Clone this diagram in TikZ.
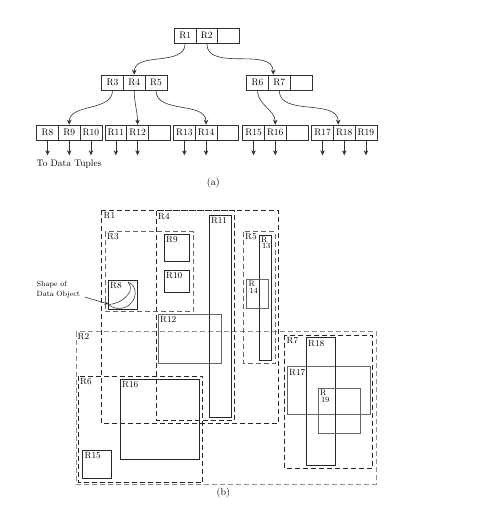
\documentclass[tikz,border=0pt]{standalone}
\usetikzlibrary{arrows.meta}
\begin{document}
\begin{tikzpicture}[x=1pt,y=-1pt,
  cell/.style={draw=black!80, line width=0.6pt, minimum width=21.7pt, minimum height=15pt, inner sep=0pt, font=\fontsize{9.5}{10}\selectfont},
  tedge/.style={draw=black!80, line width=0.6pt, -{Stealth[length=5pt,width=4.5pt]}},
  dbox/.style={draw=black!85, line width=0.65pt, dash pattern=on 5pt off 3pt},
  lbox/.style={draw=black!45, line width=0.65pt, dash pattern=on 5pt off 3pt},
  sbox/.style={draw=black!85, line width=0.6pt},
  gbox/.style={draw=black!60, line width=0.6pt},
  lab/.style={anchor=north west, inner sep=1pt, font=\fontsize{9}{9}\selectfont},
  lab2/.style={anchor=north west, inner sep=0.8pt, align=left, font=\fontsize{8}{6.5}\selectfont}
]
\useasboundingbox (0,0) rectangle (500,515);

% ---------- (a) tree ----------
% level 1
\node[cell] (r1) at (185.15,35.8) {R1};
\node[cell] (r2) at (206.85,35.8) {R2};
\node[cell] (e1) at (228.55,35.8) {};
% level 2
\node[cell] (r3) at (112.55,82.5) {R3};
\node[cell] (r4) at (134.25,82.5) {R4};
\node[cell] (r5) at (155.95,82.5) {R5};
\node[cell] (r6) at (257.55,82.5) {R6};
\node[cell] (r7) at (279.25,82.5) {R7};
\node[cell] (e2) at (300.95,82.5) {};
% level 3
\node[cell] (r8)  at (47.55,132.5) {R8};
\node[cell] (r9)  at (69.25,132.5) {R9};
\node[cell] (r10) at (90.95,132.5) {R10};
\node[cell] (r11) at (115.85,132.5) {R11};
\node[cell] (r12) at (137.55,132.5) {R12};
\node[cell] (e3)  at (159.25,132.5) {};
\node[cell] (r13) at (184.35,132.5) {R13};
\node[cell] (r14) at (206.05,132.5) {R14};
\node[cell] (e4)  at (227.75,132.5) {};
\node[cell] (r15) at (253.55,132.5) {R15};
\node[cell] (r16) at (275.25,132.5) {R16};
\node[cell] (e5)  at (296.95,132.5) {};
\node[cell] (r17) at (322.55,132.5) {R17};
\node[cell] (r18) at (344.25,132.5) {R18};
\node[cell] (r19) at (365.95,132.5) {R19};

% tree edges
\draw[tedge] (r1.south) to[out=-90,in=90] (r4.north);
\draw[tedge] (r2.south) to[out=-90,in=90] ([xshift=-6pt]r7.north);
\draw[tedge] (r3.south) to[out=-90,in=90] (r9.north);
\draw[tedge] (r4.south) to[out=-90,in=90] (r12.north);
\draw[tedge] (r5.south) to[out=-90,in=90] (r14.north);
\draw[tedge] (r6.south) to[out=-90,in=90] (r16.north);
\draw[tedge] (r7.south) to[out=-90,in=90] ([xshift=-6pt]r18.north);

% leaf arrows to data tuples
\foreach \n in {r8,r9,r10,r11,r12,r13,r14,r15,r16,r17,r18,r19}{
  \coordinate (\n d) at ([yshift=-15pt]\n.south);
  \draw[tedge] (\n.south) -- (\n d);
}
\node[font=\fontsize{9.5}{10}\selectfont, anchor=west, inner sep=0pt] (tdt) at (36.5,164) {To Data Tuples};
\node[font=\fontsize{10}{10}\selectfont] (capa) at (213.3,183.3) {(a)};

% ---------- (b) rectangles ----------
% R2 (light dashed)
\draw[lbox] (76,331.7) rectangle (376,484);
\node[lab] (lR2) at (76.5,332.5) {R2};
% R1
\draw[dbox] (101.7,210) rectangle (278.3,423.5);
\node[lab] (lR1) at (102.5,211) {R1};
% R4
\draw[dbox] (156.3,210.5) rectangle (234.5,420);
\node[lab] (lR4) at (157,212) {R4};
% R3
\draw[lbox, draw=black!60] (105,231.7) rectangle (193.3,311.7);
\node[lab] (lR3) at (106,232.5) {R3};
% R5
\draw[lbox, draw=black!60] (243.3,231.7) rectangle (275,363.3);
\node[lab] (lR5) at (244,232.5) {R5};
% R6
\draw[dbox] (78.3,376) rectangle (202.7,482.7);
\node[lab] (lR6) at (79,377) {R6};
% R7
\draw[dbox] (284.5,335) rectangle (372.5,468.3);
\node[lab] (lR7) at (285.5,336) {R7};

% solid leaves
\draw[sbox] (108,280) rectangle (137,309.3);
\node[lab] (lR8) at (109,281) {R8};
\draw[sbox] (164.3,234) rectangle (189.3,261);
\node[lab] (lR9) at (165,235) {R9};
\draw[sbox] (164.3,270) rectangle (189.3,292.7);
\node[lab] (lR10) at (165,271) {R10};
\draw[sbox] (209,215) rectangle (231,417.3);
\node[lab] (lR11) at (209.8,216) {R11};
\draw[gbox] (158.3,314.3) rectangle (221.7,363.3);
\node[lab] (lR12) at (159,315.3) {R12};
\draw[sbox] (259.3,235) rectangle (271.7,360.7);
\node[lab2] (lR13) at (260,236) {R\\\hspace*{1pt}13};
\draw[gbox] (246.7,279.3) rectangle (268.3,308.7);
\node[lab2] (lR14) at (247.5,280.3) {R\\\hspace*{1pt}14};
\draw[sbox] (82.7,450) rectangle (111.7,478.3);
\node[lab] (lR15) at (83.5,451) {R15};
\draw[sbox] (120,379.3) rectangle (199.3,459.3);
\node[lab] (lR16) at (121,380.3) {R16};
\draw[gbox] (287.3,366.7) rectangle (370,414);
\node[lab] (lR17) at (288,367.7) {R17};
\draw[sbox] (306,337.7) rectangle (335,465.7);
\node[lab] (lR18) at (307,338.7) {R18};
\draw[gbox] (318.3,388.3) rectangle (360,433.3);
\node[lab2] (lR19) at (319,389.3) {R\\\hspace*{1pt}19};

% data object crescent
\draw[black!75, line width=0.6pt] (128,282) .. controls (137,285) and (139,300) .. (126,307)
  .. controls (119,310) and (112,308) .. (108.5,304.5)
  .. controls (118,304) and (127,298) .. (130,291)
  .. controls (131,287) and (130,284) .. (128,282);
\coordinate (tip) at (108.5,304);
\node[anchor=north west, align=left, inner sep=1pt, font=\fontsize{7.5}{10}\selectfont] (shapetxt) at (35.5,280) {Shape of\\Data Object};
\draw[tedge, -{Stealth[length=4pt,width=3.5pt]}] ([xshift=4pt,yshift=2pt]shapetxt.south east) -- (tip);

\node[font=\fontsize{10}{10}\selectfont] (capb) at (223.3,493.3) {(b)};
\end{tikzpicture}
\end{document}
